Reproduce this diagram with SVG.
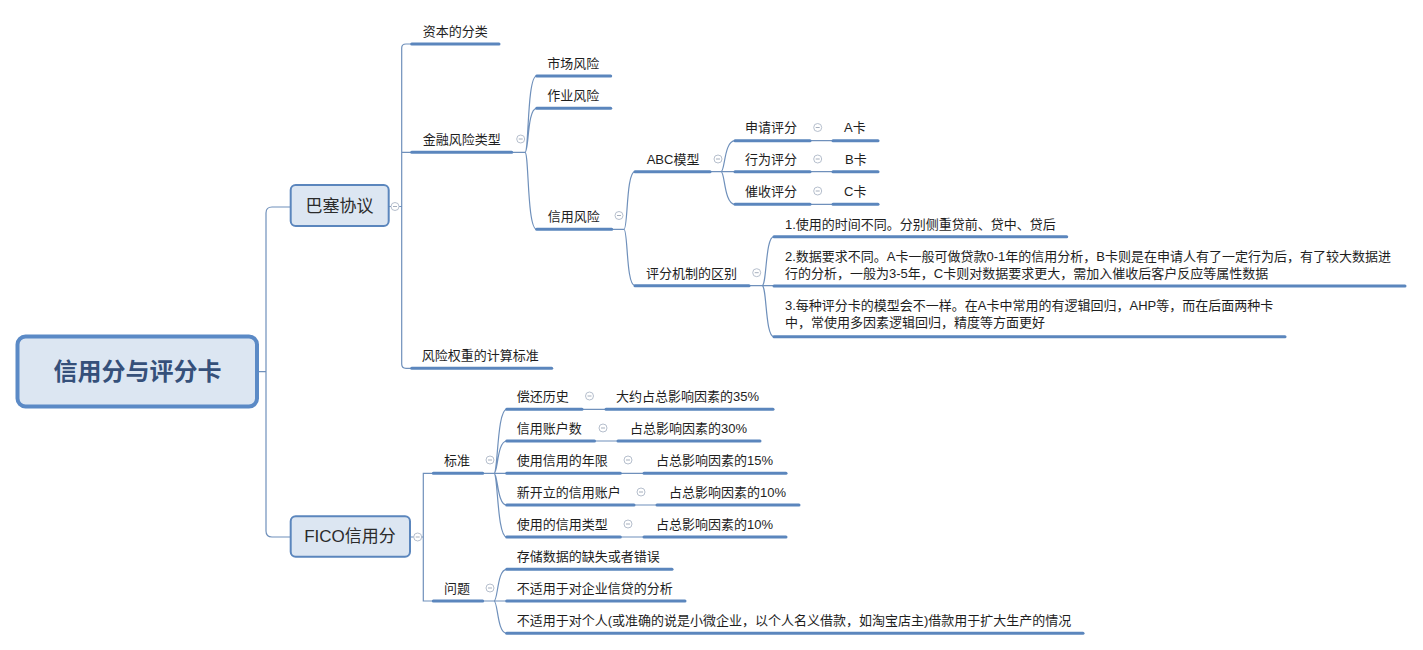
<svg xmlns="http://www.w3.org/2000/svg" width="1423" height="650" viewBox="0 0 1423 650">
<style>
text{font-family:"Liberation Sans","Noto Sans CJK SC",sans-serif;font-size:13px;fill:#1e1e1e;dominant-baseline:central}
.ul{stroke:#5b86bd;stroke-width:3;stroke-linecap:round;fill:none}
.cn{stroke:#6f90bb;stroke-width:1.2;fill:none}
.box{fill:#dce6f2;stroke:#5b86bd;stroke-width:2}
.main{font-size:17px;fill:#2b2b2b;text-anchor:middle}
.root{font-size:24px;font-weight:bold;fill:#35507a;text-anchor:middle}
.cc{fill:#fff;stroke:#b6bfcd;stroke-width:1}
.cm{stroke:#a6afbd;stroke-width:1}
</style>
<defs>
<g id="col"><circle class="cc" r="4"/><line class="cm" x1="-2" y1="0" x2="2" y2="0"/></g>
</defs>
<g id="connectors">
<path class="cn" d="M257.7,371.7 H266 M290.7,207 H272 Q266,207 266,213 V531 Q266,537 272,537 H290.7"/>
<path class="cn" d="M388.7,206.5 H401.7 M411.7,44 H406 Q401.7,44 401.7,48 V364 Q401.7,368.3 406,368.3 H411.7 M401.7,152.3 H411.7"/>
<path class="cn" d="M410,537 H423.3 M433.3,473.3 H423.3 V601 H433.3"/>
<path class="cn" d="M511.7,152.3 H525 C529,152.3 527,76 536.7,76 M525,152.3 C529,152.3 527,108.3 536.7,108.3 M525,152.3 C529,152.3 527,229.3 536.7,229.3"/>
<path class="cn" d="M611.7,229.3 H624 C628,229.3 626,171.7 635,171.7 M624,229.3 C628,229.3 626,285.7 635,285.7"/>
<path class="cn" d="M710,171.7 H735 M721,171.7 C725,171.7 724,140.7 735,140.7 M721,171.7 C725,171.7 724,204.3 735,204.3"/>
<path class="cn" d="M810,140.7 H833 M810,171.7 H833 M810,204.3 H833"/>
<path class="cn" d="M749,285.7 H774 M762,285.7 C767,285.7 765,236.7 774,236.7 M762,285.7 C767,285.7 765,336.7 774,336.7"/>
<path class="cn" d="M482.7,473.3 H506.7 M494,473.3 C498,473.3 497,409.3 506.7,409.3 M494,473.3 C498,473.3 497,441 506.7,441 M494,473.3 C498,473.3 497,505 506.7,505 M494,473.3 C498,473.3 497,537 506.7,537"/>
<path class="cn" d="M582,409.3 H606 M594.5,441 H618 M620.3,473.3 H644 M634,505 H657 M620.3,537 H644"/>
<path class="cn" d="M482.7,601 H506.7 M494,601 C498,601 497,569.3 506.7,569.3 M494,601 C498,601 497,633.3 506.7,633.3"/>
</g>
<g id="root"><rect x="17.5" y="336.5" width="239.5" height="70" rx="8" fill="#dce6f2" stroke="#5b8ac6" stroke-width="4"/><text class="root" x="137.4" y="371.7">信用分与评分卡</text></g>
<g id="basel"><rect class="box" x="290.7" y="185" width="98" height="41" rx="5"/><text class="main" x="339.5" y="206">巴塞协议</text><use href="#col" x="395" y="206.5"/></g>
<g id="fico"><rect class="box" x="290.7" y="516.3" width="119.3" height="40.4" rx="5"/><text class="main" x="350" y="536.5">FICO信用分</text><use href="#col" x="417.7" y="537"/></g>
<g id="capital"><line class="ul" x1="411.7" y1="44" x2="499" y2="44"/><text x="422.7" y="31.5">资本的分类</text></g>
<g id="finrisk"><line class="ul" x1="411.7" y1="152.3" x2="511.7" y2="152.3"/><text x="422.7" y="139">金融风险类型</text><use href="#col" x="520.7" y="139"/></g>
<g id="riskweight"><line class="ul" x1="411.7" y1="368.3" x2="551.7" y2="368.3"/><text x="421.7" y="355">风险权重的计算标准</text></g>
<g id="market"><line class="ul" x1="536.7" y1="76" x2="610.7" y2="76"/><text x="547.3" y="63.5">市场风险</text></g>
<g id="operation"><line class="ul" x1="536.7" y1="108.3" x2="610.7" y2="108.3"/><text x="547.3" y="95.5">作业风险</text></g>
<g id="credit"><line class="ul" x1="536.7" y1="229.3" x2="611.7" y2="229.3"/><text x="547.7" y="216">信用风险</text><use href="#col" x="619" y="215.5"/></g>
<g id="abc"><line class="ul" x1="635" y1="171.7" x2="710" y2="171.7"/><text x="646.7" y="159">ABC模型</text><use href="#col" x="718" y="159"/></g>
<g id="mech"><line class="ul" x1="635" y1="285.7" x2="749" y2="285.7"/><text x="646" y="273">评分机制的区别</text><use href="#col" x="756.7" y="272.7"/></g>
<g id="apply"><line class="ul" x1="735" y1="140.7" x2="810" y2="140.7"/><text x="745" y="127.5">申请评分</text><use href="#col" x="817.7" y="127.5"/></g>
<g id="behav"><line class="ul" x1="735" y1="171.7" x2="810" y2="171.7"/><text x="745" y="159">行为评分</text><use href="#col" x="817.7" y="159"/></g>
<g id="collect"><line class="ul" x1="735" y1="204.3" x2="810" y2="204.3"/><text x="745" y="191">催收评分</text><use href="#col" x="817.7" y="191"/></g>
<g id="acard"><line class="ul" x1="833" y1="140.7" x2="878" y2="140.7"/><text x="844" y="127.5">A卡</text></g>
<g id="bcard"><line class="ul" x1="833" y1="171.7" x2="878" y2="171.7"/><text x="845" y="159">B卡</text></g>
<g id="ccard"><line class="ul" x1="833" y1="204.3" x2="878" y2="204.3"/><text x="844" y="191">C卡</text></g>
<g id="item1"><line class="ul" x1="774" y1="236.7" x2="1066.7" y2="236.7"/><text x="785" y="224">1.使用的时间不同。分别侧重贷前、贷中、贷后</text></g>
<g id="item2"><line class="ul" x1="774" y1="286" x2="1405" y2="286"/><text x="785" y="256">2.数据要求不同。A卡一般可做贷款0-1年的信用分析，B卡则是在申请人有了一定行为后，有了较大数据进</text><text x="785" y="273.5">行的分析，一般为3-5年，C卡则对数据要求更大，需加入催收后客户反应等属性数据</text></g>
<g id="item3"><line class="ul" x1="774" y1="336.7" x2="1285" y2="336.7"/><text x="785" y="305">3.每种评分卡的模型会不一样。在A卡中常用的有逻辑回归，AHP等，而在后面两种卡</text><text x="785" y="322.5">中，常使用多因素逻辑回归，精度等方面更好</text></g>
<g id="std"><line class="ul" x1="433.3" y1="473.3" x2="482.7" y2="473.3"/><text x="444" y="460">标准</text><use href="#col" x="490" y="460"/></g>
<g id="issue"><line class="ul" x1="433.3" y1="601" x2="482.7" y2="601"/><text x="444" y="588">问题</text><use href="#col" x="490" y="588"/></g>
<g id="s1"><line class="ul" x1="506.7" y1="409.3" x2="582" y2="409.3"/><text x="516.7" y="396">偿还历史</text><use href="#col" x="589.5" y="396"/></g>
<g id="s2"><line class="ul" x1="506.7" y1="441" x2="594.5" y2="441"/><text x="516.7" y="428">信用账户数</text><use href="#col" x="603" y="428"/></g>
<g id="s3"><line class="ul" x1="506.7" y1="473.3" x2="620.3" y2="473.3"/><text x="516.7" y="460">使用信用的年限</text><use href="#col" x="628" y="460"/></g>
<g id="s4"><line class="ul" x1="506.7" y1="505" x2="634" y2="505"/><text x="516.7" y="492">新开立的信用账户</text><use href="#col" x="641" y="492"/></g>
<g id="s5"><line class="ul" x1="506.7" y1="537" x2="620.3" y2="537"/><text x="516.7" y="524">使用的信用类型</text><use href="#col" x="628" y="524"/></g>
<g id="p1"><line class="ul" x1="606" y1="409.3" x2="773" y2="409.3"/><text x="616" y="396">大约占总影响因素的35%</text></g>
<g id="p2"><line class="ul" x1="618" y1="441" x2="760" y2="441"/><text x="630" y="428">占总影响因素的30%</text></g>
<g id="p3"><line class="ul" x1="644" y1="473.3" x2="786" y2="473.3"/><text x="656" y="460">占总影响因素的15%</text></g>
<g id="p4"><line class="ul" x1="657" y1="505" x2="799" y2="505"/><text x="669" y="492">占总影响因素的10%</text></g>
<g id="p5"><line class="ul" x1="644" y1="537" x2="786" y2="537"/><text x="656" y="524">占总影响因素的10%</text></g>
<g id="q1"><line class="ul" x1="506.7" y1="569.3" x2="672" y2="569.3"/><text x="516.7" y="556">存储数据的缺失或者错误</text></g>
<g id="q2"><line class="ul" x1="506.7" y1="601" x2="685" y2="601"/><text x="516.7" y="588">不适用于对企业信贷的分析</text></g>
<g id="q3"><line class="ul" x1="506.7" y1="633.3" x2="1083" y2="633.3"/><text x="516.7" y="620">不适用于对个人(或准确的说是小微企业，以个人名义借款，如淘宝店主)借款用于扩大生产的情况</text></g>
</svg>
